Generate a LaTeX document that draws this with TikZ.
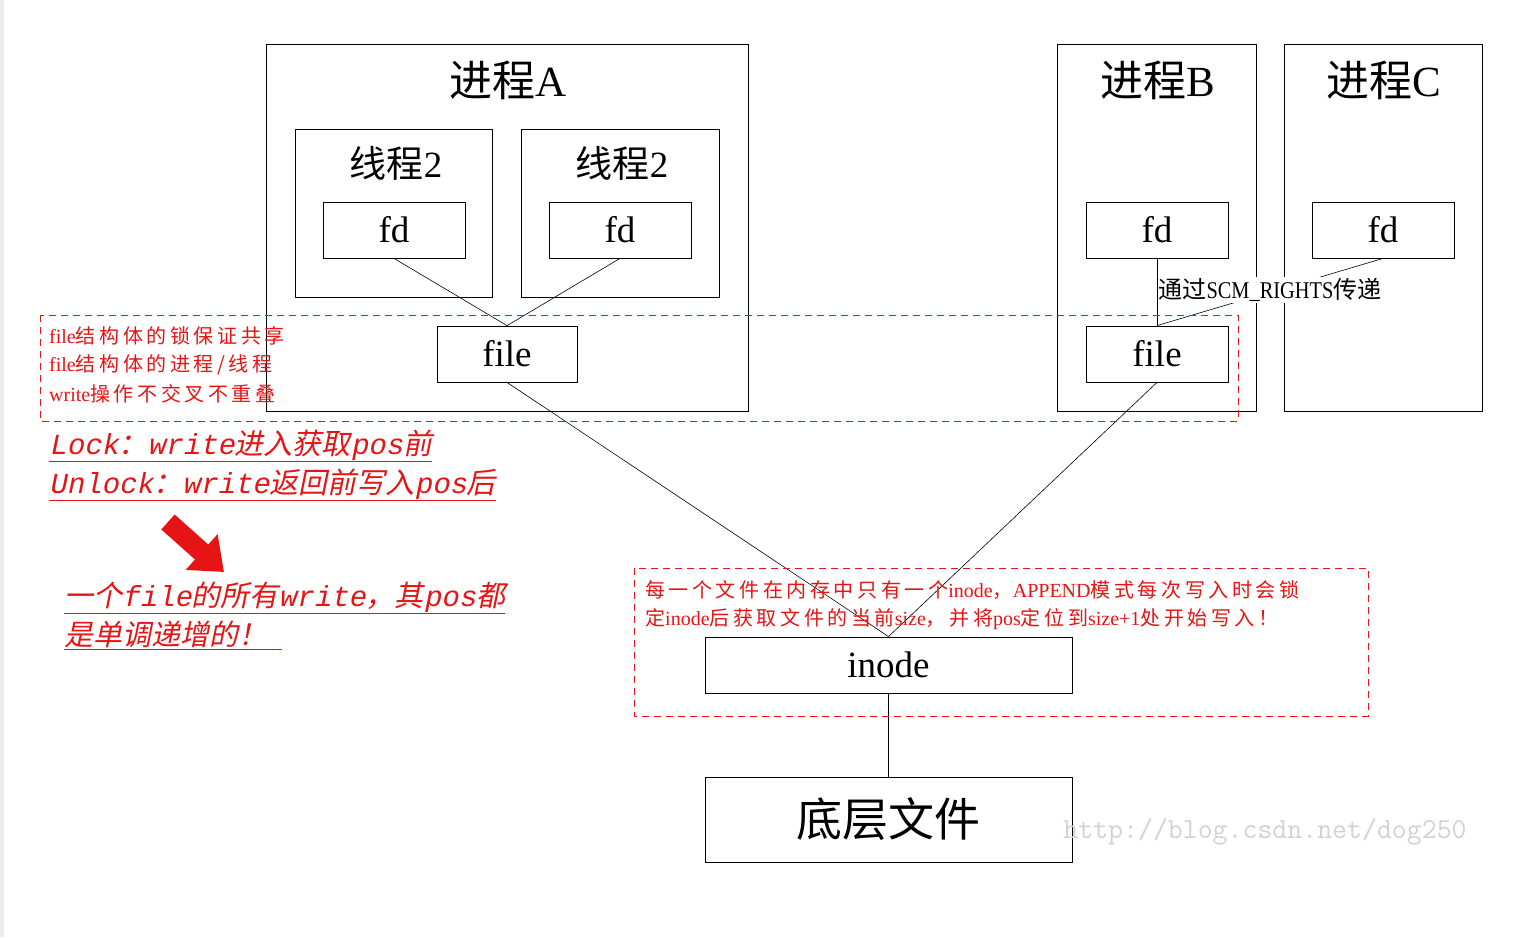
\documentclass[tikz,border=0pt]{standalone}
\usepackage{fontspec}
\setmainfont{Liberation Serif}
\newfontfamily\cjk{Noto Sans CJK SC}
\newfontfamily\cjks{Noto Sans CJK SC}[LetterSpace=18]
\newfontfamily\cjki{Noto Sans CJK SC}[FakeSlant=0.2]
\newfontfamily\monoi{Liberation Mono}[FakeSlant=0.2]
\usetikzlibrary{arrows.meta}
\definecolor{rd}{RGB}{230,20,20}
\begin{document}
\begin{tikzpicture}[x=1pt,y=-1pt,
 box/.style={draw,line width=0.8pt,inner sep=0},
 big/.style={font=\fontsize{37}{40}\selectfont},
 ttl/.style={font=\fontsize{43}{46}\selectfont},
 red dash/.style={draw=rd,dashed,line width=0.9pt,dash pattern=on 7pt off 5pt},
 rtxt/.style={text=rd,anchor=west,inner sep=0,font=\fontsize{20}{22}\selectfont},
 ltxt/.style={text=rd,anchor=west,inner sep=0,font=\fontsize{29}{32}\selectfont},
 con/.style={line width=0.6pt}]
\useasboundingbox[fill=white] (0,0) rectangle (1515,937);
\fill[gray!15] (0,0) rectangle (4,937);
% process boxes
\node[box,minimum width=482,minimum height=367] (pa) at (507,227.5) {};
\node[box,minimum width=199,minimum height=367] (pb) at (1156.5,227.5) {};
\node[box,minimum width=198,minimum height=367] (pc) at (1383,227.5) {};
\node[ttl] (ta) at (508,80) {{\cjk 进程}A};
\node[ttl] (tb) at (1158,80) {{\cjk 进程}B};
\node[ttl] (tc) at (1384,80) {{\cjk 进程}C};
\node[box,minimum width=197,minimum height=168] (th1) at (393.5,213) {};
\node[box,minimum width=198,minimum height=168] (th2) at (620,213) {};
\node[big] (tt1) at (396,163) {{\cjk 线程}2};
\node[big] (tt2) at (622,163) {{\cjk 线程}2};
% fds
\node[box,big,minimum width=142,minimum height=56] (fa1) at (394,230) {fd};
\node[box,big,minimum width=142,minimum height=56] (fa2) at (620,230) {fd};
\node[box,big,minimum width=142,minimum height=56] (fb) at (1157,230) {fd};
\node[box,big,minimum width=142,minimum height=56] (fc) at (1383,230) {fd};
\node[box,big,minimum width=140,minimum height=56] (fia) at (507,354) {file};
\node[box,big,minimum width=142,minimum height=56] (fib) at (1157,354) {file};
\node[box,big,minimum width=367,minimum height=56] (ino) at (888.5,665) {inode};
\node[box,minimum width=367,minimum height=85,font=\fontsize{46}{48}\selectfont\cjk] (low) at (888.5,819.5) {底层文件};
% connectors
\draw[con] (fa1.south) -- (fia.north);
\draw[con] (fa2.south) -- (fia.north);
\draw[con] (fb.south) -- (fib.north);
\draw[con] (fc.south) -- (fib.north);
\draw[con] (fia.south) -- (ino.north);
\draw[con] (fib.south) -- (ino.north);
\draw[con] (ino.south) -- (low.north);
\node[fill=white,inner sep=1pt,font=\fontsize{24}{26}\selectfont] (scm) at (1270,290) {{\cjk 通过}\addfontfeature{FakeStretch=0.85}SCM\_RIGHTS{\cjk 传递}};
% red dashed boxes
\draw[red dash] (40,315) rectangle (1238,421);
\draw[red dash] (634,568) rectangle (1368,716);
\node[rtxt] (r1) at (49,336) {file{\cjks 结构体的锁保证共享}};
\node[rtxt] (r2) at (49,365) {file{\cjks 结构体的进程/线程}};
\node[rtxt] (r3) at (49,394) {write{\cjks 操作不交叉不重叠}};
\node[rtxt] (i1) at (645,590) {{\cjks 每一个文件在内存中只有一个}inode{\cjk ，}APPEND{\cjks 模式每次写入时会锁}};
\node[rtxt] (i2) at (645,619) {{\cjks 定}inode{\cjks 后获取文件的当前}size{\cjks ，并将}pos{\cjks 定位到}size+1{\cjks 处开始写入！}};
\node[ltxt] (l1) at (49,446) {\underline{{\monoi Lock}{\cjki ：}{\monoi write}{\cjki 进入获取}{\monoi pos}{\cjki 前}}};
\node[ltxt] (l2) at (49,485) {\underline{{\monoi Unlock}{\cjki ：}{\monoi write}{\cjki 返回前写入}{\monoi pos}{\cjki 后}}};
\node[ltxt] (l3) at (64,598) {\underline{{\cjki 一个}{\monoi file}{\cjki 的所有}{\monoi write}{\cjki ，其}{\monoi pos}{\cjki 都}}};
\node[ltxt] (l4) at (64,635) {\underline{{\cjki 是单调递增的！}\ \ }};
% red arrow
\coordinate (as) at (168,522);
\coordinate (ae) at (224,572);
\draw[rd,line width=20pt,-{Triangle[length=30pt,width=46pt]}] (as) -- (ae);
% watermark
\node[text=gray!35,font=\fontsize{29}{30}\selectfont\ttfamily] (wm) at (1265,832) {http://blog.csdn.net/dog250};
\end{tikzpicture}
\end{document}
